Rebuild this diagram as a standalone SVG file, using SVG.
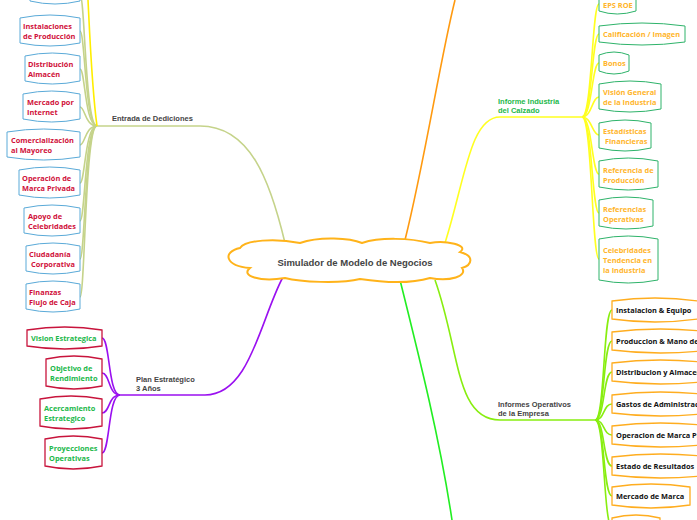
<svg xmlns="http://www.w3.org/2000/svg" width="697" height="520" viewBox="0 0 697 520">
<style>
text{font-family:"Open Sans","Liberation Sans",sans-serif;font-weight:bold;font-size:7.4px}
.lbl{font-family:"Liberation Sans",Arial,sans-serif;font-size:7.5px;fill:#444}
.b{fill:#fff;stroke:#5aaad8;stroke-width:1}
.bt{fill:#d0103a}
.g{fill:#fff;stroke:#2eb36a;stroke-width:1}
.gt{fill:#ffb52b}
.o{fill:#fff;stroke:#ffad1f;stroke-width:1.3}
.ot{fill:#111}
.r{fill:#fff;stroke:#c8143c;stroke-width:1.3}
.rt{fill:#1cb84a}
.c path{fill:none;stroke-width:1.6}
</style>
<g class="c" id="connectors">
<path d="M285,243 C270,180 250,126 200,126 L97,126" stroke="#c5d38a" stroke-width="2.2"/>
<g stroke="#c5d38a">
<path d="M97,126 C85,126 85,-5 80,-5"/>
<path d="M97,126 C85,126 85,31 80,31"/>
<path d="M97,126 C85,126 85,69 80,69"/>
<path d="M97,126 C85,126 85,107 80,107"/>
<path d="M97,126 C85,126 85,145 80,145"/>
<path d="M97,126 C85,126 85,183 80,183"/>
<path d="M97,126 C85,126 85,221 80,221"/>
<path d="M97,126 C85,126 85,259 80,259"/>
<path d="M97,126 C85,126 85,297 80,297"/>
</g>
<path d="M97,126 C92,90 90,40 88,0" stroke="#ffee00"/>
<path d="M405,240 C425,160 440,60 455,0" stroke="#ff9a10" stroke-width="2.2"/>
<path d="M445,243 C465,180 470,117 500,117 L582,117" stroke="#ffff20" stroke-width="2.2"/>
<g stroke="#ffff20">
<path d="M582,117 C592,117 592,4 599,4"/>
<path d="M582,117 C592,117 592,34 599,34"/>
<path d="M582,117 C592,117 592,63 599,63"/>
<path d="M582,117 C592,117 592,97 599,97"/>
<path d="M582,117 C592,117 592,135 599,135"/>
<path d="M582,117 C592,117 592,174 599,174"/>
<path d="M582,117 C592,117 592,213 599,213"/>
<path d="M582,117 C592,117 592,259 599,259"/>
</g>
<path d="M435,280 C460,350 455,420 500,420 L595,420" stroke="#88ee10" stroke-width="2.2"/>
<g stroke="#88ee10">
<path d="M595,420 C605,420 603,310 612,310"/>
<path d="M595,420 C605,420 603,341 612,341"/>
<path d="M595,420 C605,420 603,372 612,372"/>
<path d="M595,420 C605,420 603,404 612,404"/>
<path d="M595,420 C605,420 603,435 612,435"/>
<path d="M595,420 C605,420 603,466 612,466"/>
<path d="M595,420 C605,420 603,496 612,496"/>
<path d="M595,420 C605,420 603,520 612,530"/>
</g>
<path d="M400,280 C420,360 440,440 452,520" stroke="#22ee22" stroke-width="2.2"/>
<path d="M283,277 C260,320 250,395 205,395 L120,395" stroke="#9a10f0" stroke-width="2.2"/>
<g stroke="#9a10f0">
<path d="M120,395 C108,395 110,338 102,338"/>
<path d="M120,395 C108,395 110,373 102,373"/>
<path d="M120,395 C108,395 110,413 102,413"/>
<path d="M120,395 C108,395 110,453 102,453"/>
</g>
</g>
<g id="center">
<path d="M240,248 C245,240 275,238 300,243 C320,236 350,238 362,243 C380,237 410,238 430,243 C445,240 470,245 460,252 C475,256 472,265 462,268 C468,276 450,282 430,278 C410,284 380,282 360,279 C340,284 300,282 285,278 C260,282 240,276 250,268 C225,266 222,252 240,248 Z" fill="#fff" stroke="#ffb31a" stroke-width="2"/>
<text x="355" y="266" text-anchor="middle" style="font-family:'Liberation Sans',Arial,sans-serif;font-size:9.5px;fill:#444">Simulador de Modelo de Negocios</text>
</g>
<text class="lbl" x="112" y="121">Entrada de Dediciones</text>
<text class="lbl" x="498" y="104" style="fill:#1cb84a">Informe Industria</text>
<text class="lbl" x="498" y="113" style="fill:#1cb84a">del Calzado</text>
<text class="lbl" x="498" y="407">Informes Operativos</text>
<text class="lbl" x="498" y="416">de la Empresa</text>
<text class="lbl" x="136" y="382">Plan Estratégico</text>
<text class="lbl" x="136" y="391">3 Años</text>
<g id="b0"><path class="b" d="M30,-24 Q55,-30 80,-24 L80,1 Q55,7 30,1 Z"/><text class="bt" x="33" y="0">de Marca</text></g>
<g id="b1"><path class="b" d="M20,18 Q50,12 80,18 L80,43 Q50,49 20,43 Z"/><text class="bt" x="23" y="29">Instalaciones</text><text class="bt" x="23" y="39">de Producción</text></g>
<g id="b2"><path class="b" d="M25,56 Q52,50 80,56 L80,81 Q52,87 25,81 Z"/><text class="bt" x="28" y="67">Distribución</text><text class="bt" x="28" y="77">Almacén</text></g>
<g id="b3"><path class="b" d="M23,94 Q52,88 80,94 L80,119 Q52,125 23,119 Z"/><text class="bt" x="27" y="105">Mercado por</text><text class="bt" x="27" y="115">Internet</text></g>
<g id="b4"><path class="b" d="M7,132 Q44,126 80,132 L80,157 Q44,163 7,157 Z"/><text class="bt" x="11" y="143">Comercialización</text><text class="bt" x="11" y="153">al Mayoreo</text></g>
<g id="b5"><path class="b" d="M19,170 Q50,164 80,170 L80,195 Q50,201 19,195 Z"/><text class="bt" x="22" y="181">Operación de</text><text class="bt" x="22" y="191">Marca Privada</text></g>
<g id="b6"><path class="b" d="M24,208 Q52,202 80,208 L80,233 Q52,239 24,233 Z"/><text class="bt" x="28" y="219">Apoyo de</text><text class="bt" x="28" y="229">Celebridades</text></g>
<g id="b7"><path class="b" d="M26,246 Q53,240 80,246 L80,271 Q53,277 26,271 Z"/><text class="bt" x="29" y="257">Ciudadanía</text><text class="bt" x="31" y="267">Corporativa</text></g>
<g id="b8"><path class="b" d="M26,284 Q53,278 80,284 L80,309 Q53,315 26,309 Z"/><text class="bt" x="29" y="295">Finanzas</text><text class="bt" x="29" y="305">Flujo de Caja</text></g>
<g id="g0"><path class="g" d="M599,-7 Q617,-13 636,-7 L636,11 Q617,17 599,11 Z"/><text class="gt" x="603" y="8">EPS ROE</text></g>
<g id="g1"><path class="g" d="M599,26 Q642,20 685,26 L685,42 Q642,48 599,42 Z"/><text class="gt" x="603" y="37">Calificación / Imagen</text></g>
<g id="g2"><path class="g" d="M599,55 Q614,49 629,55 L629,71 Q614,77 599,71 Z"/><text class="gt" x="603" y="66">Bonos</text></g>
<g id="g3"><path class="g" d="M599,84 Q630,78 661,84 L661,109 Q630,115 599,109 Z"/><text class="gt" x="603" y="95">Visión General</text><text class="gt" x="603" y="105">de la Industria</text></g>
<g id="g4"><path class="g" d="M599,123 Q625,117 651,123 L651,148 Q625,154 599,148 Z"/><text class="gt" x="603" y="134">Estadísticas</text><text class="gt" x="605" y="144">Financieras</text></g>
<g id="g5"><path class="g" d="M599,161 Q628,155 658,161 L658,187 Q628,193 599,187 Z"/><text class="gt" x="603" y="173">Referencia de</text><text class="gt" x="603" y="183">Producción</text></g>
<g id="g6"><path class="g" d="M599,200 Q626,194 653,200 L653,226 Q626,232 599,226 Z"/><text class="gt" x="603" y="212">Referencias</text><text class="gt" x="603" y="222">Operativas</text></g>
<g id="g7"><path class="g" d="M599,239 Q628,233 658,239 L658,280 Q628,286 599,280 Z"/><text class="gt" x="603" y="253">Celebridades</text><text class="gt" x="603" y="263">Tendencia en</text><text class="gt" x="603" y="273">la Industria</text></g>
<g id="o0"><path class="o" d="M612,301 Q655,295 698,301 L698,319 Q655,325 612,319 Z"/><text class="ot" x="616" y="313">Instalacion &amp; Equipo</text></g>
<g id="o1"><path class="o" d="M612,332 Q660,326 710,332 L710,350 Q660,356 612,350 Z"/><text class="ot" x="616" y="344">Produccion &amp; Mano de</text></g>
<g id="o2"><path class="o" d="M612,363 Q660,357 710,363 L710,381 Q660,387 612,381 Z"/><text class="ot" x="616" y="375">Distribucion y Almacen</text></g>
<g id="o3"><path class="o" d="M612,395 Q660,389 710,395 L710,413 Q660,419 612,413 Z"/><text class="ot" x="616" y="407">Gastos de Administracion</text></g>
<g id="o4"><path class="o" d="M612,426 Q660,420 710,426 L710,444 Q660,450 612,444 Z"/><text class="ot" x="616" y="438">Operacion de Marca  Privada</text></g>
<g id="o5"><path class="o" d="M612,457 Q660,451 710,457 L710,475 Q660,481 612,475 Z"/><text class="ot" x="616" y="469">Estado de Resultados</text></g>
<g id="o6"><path class="o" d="M612,487 Q651,481 690,487 L690,505 Q651,511 612,505 Z"/><text class="ot" x="616" y="499">Mercado de Marca</text></g>
<g id="o7"><path class="o" d="M612,518 Q636,512 660,518 L660,536 Q636,542 612,536 Z"/></g>
<g id="r0"><path class="r" d="M27,330 Q65,324 102,330 L102,346 Q65,352 27,346 Z"/><text class="rt" x="31" y="341">Vision Estrategica</text></g>
<g id="r1"><path class="r" d="M46,359 Q74,353 102,359 L102,386 Q74,392 46,386 Z"/><text class="rt" x="50" y="371">Objetivo de</text><text class="rt" x="50" y="381">Rendimiento</text></g>
<g id="r2"><path class="r" d="M40,399 Q71,393 102,399 L102,426 Q71,432 40,426 Z"/><text class="rt" x="44" y="411">Acercamiento</text><text class="rt" x="44" y="421">Estrategico</text></g>
<g id="r3"><path class="r" d="M45,439 Q73,433 102,439 L102,466 Q73,472 45,466 Z"/><text class="rt" x="49" y="451">Proyecciones</text><text class="rt" x="49" y="461">Operativas</text></g>
</svg>
